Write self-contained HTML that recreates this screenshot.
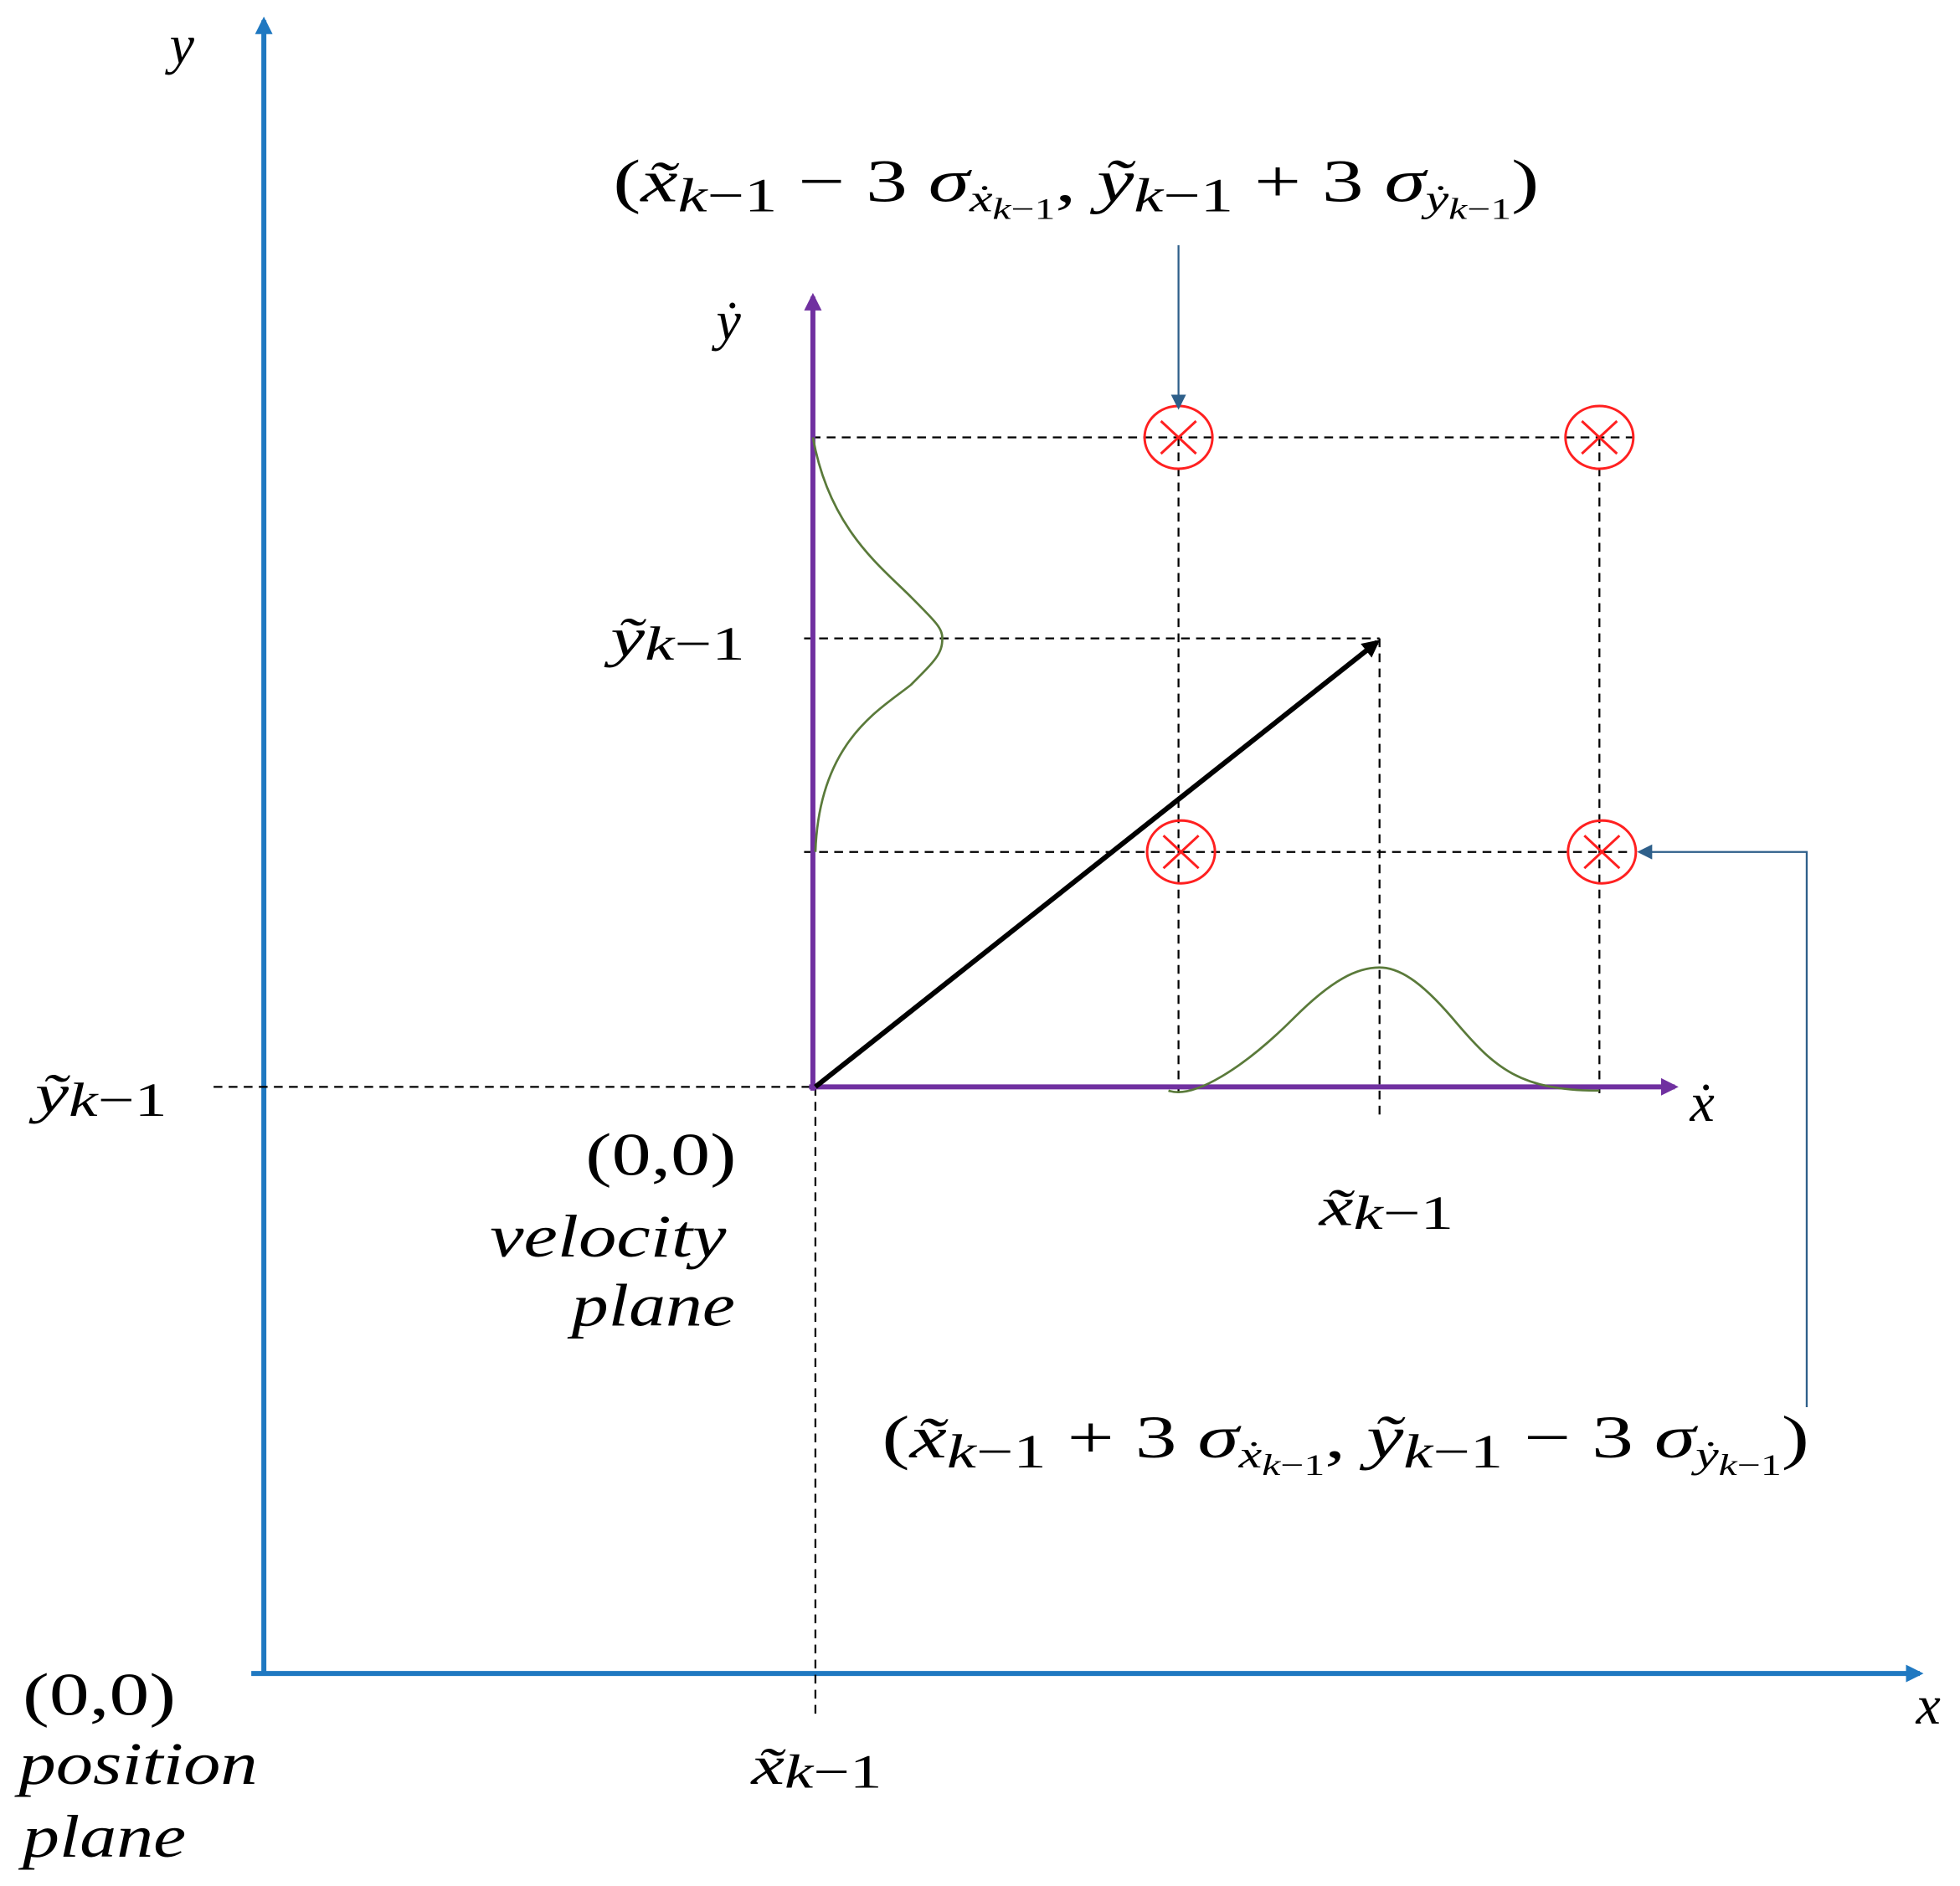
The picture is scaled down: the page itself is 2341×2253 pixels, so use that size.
<!DOCTYPE html>
<html><head><meta charset="utf-8"><style>
html,body{margin:0;padding:0;background:#fff}
svg{display:block}
text{font-family:"Liberation Serif",serif;fill:#000}
.i{font-style:italic}
</style></head><body>
<svg width="2341" height="2253" viewBox="0 0 1560 1501" xmlns="http://www.w3.org/2000/svg">
<defs>
<marker id="ab" markerWidth="14" markerHeight="14" refX="11" refY="7" orient="auto" markerUnits="userSpaceOnUse" viewBox="0 0 14 14"><path d="M0,0 L14,7 L0,14 Z" fill="#1f78c1"/></marker>
<marker id="ap" markerWidth="14" markerHeight="14" refX="11" refY="7" orient="auto" markerUnits="userSpaceOnUse" viewBox="0 0 14 14"><path d="M0,0 L14,7 L0,14 Z" fill="#7030a0"/></marker>
<marker id="ak" markerWidth="14" markerHeight="14" refX="11" refY="7" orient="auto" markerUnits="userSpaceOnUse" viewBox="0 0 14 14"><path d="M0,0 L14,7 L0,14 Z" fill="#000"/></marker>
<marker id="an" markerWidth="12" markerHeight="12" refX="10" refY="6" orient="auto" markerUnits="userSpaceOnUse" viewBox="0 0 12 12"><path d="M0,0 L12,6 L0,12 Z" fill="#2e5f8a"/></marker>
</defs>
<line x1="210" y1="1332" x2="210" y2="16" stroke="#1f78c1" stroke-width="4" marker-end="url(#ab)"/>
<line x1="200" y1="1332" x2="1528" y2="1332" stroke="#1f78c1" stroke-width="4" marker-end="url(#ab)"/>
<g stroke="#000" stroke-width="1.5" stroke-dasharray="7,5" fill="none">
<line x1="646" y1="348" x2="1300" y2="348"/>
<line x1="640" y1="508" x2="1098" y2="508"/>
<line x1="640" y1="678" x2="1300" y2="678"/>
<line x1="170" y1="865" x2="646" y2="865"/>
<line x1="938" y1="348" x2="938" y2="870"/>
<line x1="1273" y1="348" x2="1273" y2="870"/>
<line x1="1098" y1="508" x2="1098" y2="890"/>
<line x1="649" y1="865" x2="649" y2="1365"/>
</g>
<line x1="647" y1="868" x2="647" y2="236" stroke="#7030a0" stroke-width="4" marker-end="url(#ap)"/>
<line x1="644" y1="865" x2="1333" y2="865" stroke="#7030a0" stroke-width="4" marker-end="url(#ap)"/>
<path d="M647,348 C660,420 700,450 725,475 C745,495 750,500 750,508 C750,520 745,525 725,545 C700,565 652,590 649,678" fill="none" stroke="#5a7a3a" stroke-width="1.8"/>
<path d="M930,868 C950,875 990,850 1030,810 C1060,780 1080,770 1098,770 C1116,770 1135,785 1160,815 C1190,850 1210,868 1273,868" fill="none" stroke="#5a7a3a" stroke-width="1.8"/>
<line x1="649" y1="865" x2="1096" y2="511" stroke="#000" stroke-width="4" marker-end="url(#ak)"/>
<g stroke="#ff2020" stroke-width="2" fill="none">
<g transform="translate(938,348)"><ellipse rx="27" ry="25"/><line x1="-14" y1="-13" x2="14" y2="13"/><line x1="-14" y1="13" x2="14" y2="-13"/></g>
<g transform="translate(1273,348)"><ellipse rx="27" ry="25"/><line x1="-14" y1="-13" x2="14" y2="13"/><line x1="-14" y1="13" x2="14" y2="-13"/></g>
<g transform="translate(940,678)"><ellipse rx="27" ry="25"/><line x1="-14" y1="-13" x2="14" y2="13"/><line x1="-14" y1="13" x2="14" y2="-13"/></g>
<g transform="translate(1275,678)"><ellipse rx="27" ry="25"/><line x1="-14" y1="-13" x2="14" y2="13"/><line x1="-14" y1="13" x2="14" y2="-13"/></g>
</g>
<line x1="938" y1="195" x2="938" y2="324" stroke="#2e5f8a" stroke-width="1.5" marker-end="url(#an)"/>
<polyline points="1438,1120 1438,678 1305,678" fill="none" stroke="#2e5f8a" stroke-width="1.5" marker-end="url(#an)"/>
<text x="135" y="50" font-size="44" class="i">y</text>
<text x="1525" y="1372" font-size="44" class="i">x</text>
<text x="570" y="270" font-size="44" class="i">ẏ</text>
<text x="1345" y="892" font-size="44" class="i">ẋ</text>
<text x="28" y="885" font-size="44" textLength="105" lengthAdjust="spacingAndGlyphs"><tspan class="i">ỹ</tspan><tspan font-size="38" dy="3"><tspan class="i">k</tspan>−1</tspan></text>
<text x="486" y="522" font-size="44" textLength="107" lengthAdjust="spacingAndGlyphs"><tspan class="i">ỹ</tspan><tspan font-size="38" dy="3"><tspan class="i">k</tspan>−1</tspan></text>
<text x="1050" y="975" font-size="44" textLength="107" lengthAdjust="spacingAndGlyphs"><tspan class="i">x̃</tspan><tspan font-size="38" dy="3"><tspan class="i">k</tspan>−1</tspan></text>
<text x="598" y="1420" font-size="44" textLength="104" lengthAdjust="spacingAndGlyphs"><tspan class="i">x̃</tspan><tspan font-size="38" dy="3"><tspan class="i">k</tspan>−1</tspan></text>
<text x="466" y="935" font-size="48" textLength="120" lengthAdjust="spacingAndGlyphs">(0,0)</text>
<text x="390" y="1000" font-size="48" class="i" textLength="188" lengthAdjust="spacingAndGlyphs">velocity</text>
<text x="455" y="1055" font-size="48" class="i" textLength="130" lengthAdjust="spacingAndGlyphs">plane</text>
<text x="18" y="1365" font-size="48" textLength="122" lengthAdjust="spacingAndGlyphs">(0,0)</text>
<text x="15" y="1420" font-size="48" class="i" textLength="190" lengthAdjust="spacingAndGlyphs">position</text>
<text x="18" y="1478" font-size="48" class="i" textLength="130" lengthAdjust="spacingAndGlyphs">plane</text>
<text x="488" y="160" font-size="48" textLength="737" lengthAdjust="spacingAndGlyphs">(<tspan class="i">x̃</tspan><tspan font-size="38" dy="8"><tspan class="i">k</tspan>−1</tspan><tspan dy="-8"> − 3 </tspan><tspan class="i">σ</tspan><tspan font-size="30" dy="8"><tspan class="i">ẋ</tspan><tspan font-size="24" dy="6"><tspan class="i">k</tspan>−1</tspan></tspan><tspan dy="-14">, </tspan><tspan class="i">ỹ</tspan><tspan font-size="38" dy="8"><tspan class="i">k</tspan>−1</tspan><tspan dy="-8"> + 3 </tspan><tspan class="i">σ</tspan><tspan font-size="30" dy="8"><tspan class="i">ẏ</tspan><tspan font-size="24" dy="6"><tspan class="i">k</tspan>−1</tspan></tspan><tspan dy="-14">)</tspan></text>
<text x="702" y="1160" font-size="48" textLength="738" lengthAdjust="spacingAndGlyphs">(<tspan class="i">x̃</tspan><tspan font-size="38" dy="8"><tspan class="i">k</tspan>−1</tspan><tspan dy="-8"> + 3 </tspan><tspan class="i">σ</tspan><tspan font-size="30" dy="8"><tspan class="i">ẋ</tspan><tspan font-size="24" dy="6"><tspan class="i">k</tspan>−1</tspan></tspan><tspan dy="-14">, </tspan><tspan class="i">ỹ</tspan><tspan font-size="38" dy="8"><tspan class="i">k</tspan>−1</tspan><tspan dy="-8"> − 3 </tspan><tspan class="i">σ</tspan><tspan font-size="30" dy="8"><tspan class="i">ẏ</tspan><tspan font-size="24" dy="6"><tspan class="i">k</tspan>−1</tspan></tspan><tspan dy="-14">)</tspan></text>
</svg>
</body></html>
